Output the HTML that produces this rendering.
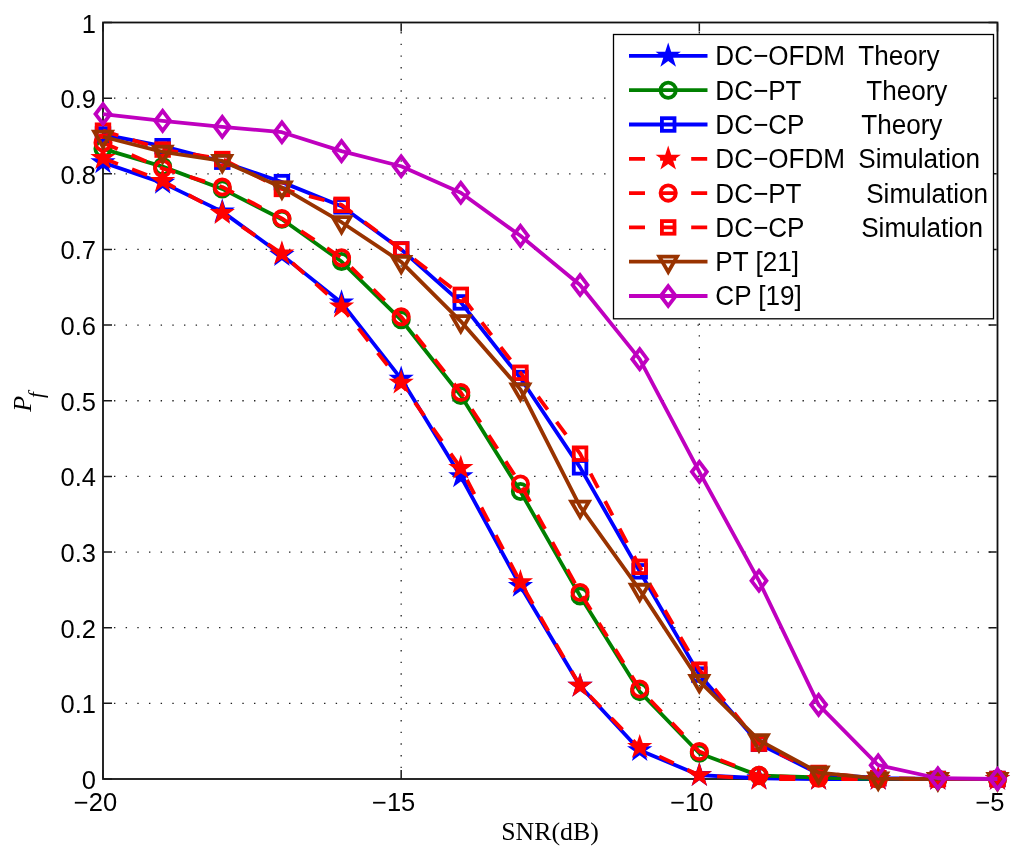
<!DOCTYPE html>
<html><head><meta charset="utf-8"><title>Pf vs SNR</title>
<style>html,body{margin:0;padding:0;background:#fff;overflow:hidden;}svg{display:block;}.s{font-family:"Liberation Sans",Arial,Helvetica,sans-serif;}.r{font-family:"Liberation Serif","Times New Roman",Times,serif;}</style>
</head><body>
<svg width="1024" height="858" viewBox="0 0 1024 858">
<rect width="1024" height="858" fill="#fff"/>
<path d="M103.00,703.35H997.50M103.00,627.70H997.50M103.00,552.05H997.50M103.00,476.40H997.50M103.00,400.75H997.50M103.00,325.10H997.50M103.00,249.45H997.50M103.00,173.80H997.50M103.00,98.15H997.50" stroke="#222" stroke-width="1.3" stroke-dasharray="1.4,10.27" stroke-dashoffset="0.7" fill="none"/>
<path d="M401.17,779.00V22.50M699.33,779.00V22.50" stroke="#222" stroke-width="1.3" stroke-dasharray="1.4,10.26" stroke-dashoffset="0.7" fill="none"/>
<rect x="103.0" y="22.5" width="894.5" height="756.5" fill="none" stroke="#111" stroke-width="1.8"/>
<path d="M103.8,779.00H112.0M996.7,779.00H988.5M103.8,703.35H112.0M996.7,703.35H988.5M103.8,627.70H112.0M996.7,627.70H988.5M103.8,552.05H112.0M996.7,552.05H988.5M103.8,476.40H112.0M996.7,476.40H988.5M103.8,400.75H112.0M996.7,400.75H988.5M103.8,325.10H112.0M996.7,325.10H988.5M103.8,249.45H112.0M996.7,249.45H988.5M103.8,173.80H112.0M996.7,173.80H988.5M103.8,98.15H112.0M996.7,98.15H988.5M103.8,22.50H112.0M996.7,22.50H988.5M103.00,778.2V770.0M103.00,23.3V31.5M401.17,778.2V770.0M401.17,23.3V31.5M699.33,778.2V770.0M699.33,23.3V31.5M997.50,778.2V770.0M997.50,23.3V31.5" stroke="#181818" stroke-width="1.5" fill="none"/>
<polyline points="103.00,162.45 162.63,182.88 222.27,211.62 281.90,255.12 341.53,302.63 401.17,378.81 460.80,476.40 520.43,586.09 580.07,685.95 639.70,750.25 699.33,775.22 758.97,778.24 818.60,779.00 878.23,779.00 937.87,779.00 997.50,779.00" fill="none" stroke="#0000ff" stroke-width="3.8" stroke-linejoin="round"/>
<polygon points="103.00,149.15 105.99,158.34 115.65,158.34 107.83,164.02 110.82,173.21 103.00,167.53 95.18,173.21 98.17,164.02 90.35,158.34 100.01,158.34" fill="#0000ff"/>
<polygon points="162.63,169.58 165.62,178.77 175.28,178.77 167.47,184.45 170.45,193.64 162.63,187.96 154.82,193.64 157.80,184.45 149.98,178.77 159.65,178.77" fill="#0000ff"/>
<polygon points="222.27,198.32 225.25,207.51 234.92,207.52 227.10,213.19 230.08,222.38 222.27,216.71 214.45,222.38 217.43,213.19 209.62,207.52 219.28,207.51" fill="#0000ff"/>
<polygon points="281.90,241.82 284.89,251.01 294.55,251.01 286.73,256.69 289.72,265.88 281.90,260.20 274.08,265.88 277.07,256.69 269.25,251.01 278.91,251.01" fill="#0000ff"/>
<polygon points="341.53,289.33 344.52,298.52 354.18,298.52 346.37,304.20 349.35,313.39 341.53,307.71 333.72,313.39 336.70,304.20 328.88,298.52 338.55,298.52" fill="#0000ff"/>
<polygon points="401.17,365.51 404.15,374.70 413.82,374.70 406.00,380.38 408.98,389.57 401.17,383.89 393.35,389.57 396.33,380.38 388.52,374.70 398.18,374.70" fill="#0000ff"/>
<polygon points="460.80,463.10 463.79,472.29 473.45,472.29 465.63,477.97 468.62,487.16 460.80,481.48 452.98,487.16 455.97,477.97 448.15,472.29 457.81,472.29" fill="#0000ff"/>
<polygon points="520.43,572.79 523.42,581.98 533.08,581.98 525.27,587.66 528.25,596.85 520.43,591.17 512.62,596.85 515.60,587.66 507.78,581.98 517.45,581.98" fill="#0000ff"/>
<polygon points="580.07,672.65 583.05,681.84 592.72,681.84 584.90,687.52 587.88,696.71 580.07,691.03 572.25,696.71 575.23,687.52 567.42,681.84 577.08,681.84" fill="#0000ff"/>
<polygon points="639.70,736.95 642.69,746.14 652.35,746.14 644.53,751.82 647.52,761.01 639.70,755.33 631.88,761.01 634.87,751.82 627.05,746.14 636.71,746.14" fill="#0000ff"/>
<polygon points="699.33,761.92 702.32,771.11 711.98,771.11 704.17,776.79 707.15,785.98 699.33,780.30 691.52,785.98 694.50,776.79 686.68,771.11 696.35,771.11" fill="#0000ff"/>
<polygon points="758.97,764.94 761.95,774.13 771.62,774.13 763.80,779.81 766.78,789.00 758.97,783.32 751.15,789.00 754.13,779.81 746.32,774.13 755.98,774.13" fill="#0000ff"/>
<polygon points="818.60,765.70 821.59,774.89 831.25,774.89 823.43,780.57 826.42,789.76 818.60,784.08 810.78,789.76 813.77,780.57 805.95,774.89 815.61,774.89" fill="#0000ff"/>
<polygon points="878.23,765.70 881.22,774.89 890.88,774.89 883.07,780.57 886.05,789.76 878.23,784.08 870.42,789.76 873.40,780.57 865.58,774.89 875.25,774.89" fill="#0000ff"/>
<polygon points="937.87,765.70 940.85,774.89 950.52,774.89 942.70,780.57 945.68,789.76 937.87,784.08 930.05,789.76 933.03,780.57 925.22,774.89 934.88,774.89" fill="#0000ff"/>
<polygon points="997.50,765.70 1000.49,774.89 1010.15,774.89 1002.33,780.57 1005.32,789.76 997.50,784.08 989.68,789.76 992.67,780.57 984.85,774.89 994.51,774.89" fill="#0000ff"/>
<polyline points="103.00,148.84 162.63,166.61 222.27,188.93 281.90,219.19 341.53,261.55 401.17,319.80 460.80,395.45 520.43,491.53 580.07,595.93 639.70,691.62 699.33,753.28 758.97,775.60 818.60,777.49 878.23,779.00 937.87,779.00 997.50,779.00" fill="none" stroke="#008000" stroke-width="3.8" stroke-linejoin="round"/>
<circle cx="103.00" cy="148.84" r="7.65" fill="none" stroke="#008000" stroke-width="3.8"/>
<circle cx="162.63" cy="166.61" r="7.65" fill="none" stroke="#008000" stroke-width="3.8"/>
<circle cx="222.27" cy="188.93" r="7.65" fill="none" stroke="#008000" stroke-width="3.8"/>
<circle cx="281.90" cy="219.19" r="7.65" fill="none" stroke="#008000" stroke-width="3.8"/>
<circle cx="341.53" cy="261.55" r="7.65" fill="none" stroke="#008000" stroke-width="3.8"/>
<circle cx="401.17" cy="319.80" r="7.65" fill="none" stroke="#008000" stroke-width="3.8"/>
<circle cx="460.80" cy="395.45" r="7.65" fill="none" stroke="#008000" stroke-width="3.8"/>
<circle cx="520.43" cy="491.53" r="7.65" fill="none" stroke="#008000" stroke-width="3.8"/>
<circle cx="580.07" cy="595.93" r="7.65" fill="none" stroke="#008000" stroke-width="3.8"/>
<circle cx="639.70" cy="691.62" r="7.65" fill="none" stroke="#008000" stroke-width="3.8"/>
<circle cx="699.33" cy="753.28" r="7.65" fill="none" stroke="#008000" stroke-width="3.8"/>
<circle cx="758.97" cy="775.60" r="7.65" fill="none" stroke="#008000" stroke-width="3.8"/>
<circle cx="818.60" cy="777.49" r="7.65" fill="none" stroke="#008000" stroke-width="3.8"/>
<circle cx="878.23" cy="779.00" r="7.65" fill="none" stroke="#008000" stroke-width="3.8"/>
<circle cx="937.87" cy="779.00" r="7.65" fill="none" stroke="#008000" stroke-width="3.8"/>
<circle cx="997.50" cy="779.00" r="7.65" fill="none" stroke="#008000" stroke-width="3.8"/>
<polyline points="103.00,134.46 162.63,146.19 222.27,161.70 281.90,182.12 341.53,206.33 401.17,249.45 460.80,302.40 520.43,378.06 580.07,467.32 639.70,571.34 699.33,674.60 758.97,743.82 818.60,773.70 878.23,778.24 937.87,779.00 997.50,779.00" fill="none" stroke="#0000ff" stroke-width="3.8" stroke-linejoin="round"/>
<rect x="96.70" y="128.16" width="12.6" height="12.6" fill="none" stroke="#0000ff" stroke-width="3.8"/>
<rect x="156.33" y="139.89" width="12.6" height="12.6" fill="none" stroke="#0000ff" stroke-width="3.8"/>
<rect x="215.97" y="155.40" width="12.6" height="12.6" fill="none" stroke="#0000ff" stroke-width="3.8"/>
<rect x="275.60" y="175.82" width="12.6" height="12.6" fill="none" stroke="#0000ff" stroke-width="3.8"/>
<rect x="335.23" y="200.03" width="12.6" height="12.6" fill="none" stroke="#0000ff" stroke-width="3.8"/>
<rect x="394.87" y="243.15" width="12.6" height="12.6" fill="none" stroke="#0000ff" stroke-width="3.8"/>
<rect x="454.50" y="296.10" width="12.6" height="12.6" fill="none" stroke="#0000ff" stroke-width="3.8"/>
<rect x="514.13" y="371.75" width="12.6" height="12.6" fill="none" stroke="#0000ff" stroke-width="3.8"/>
<rect x="573.77" y="461.02" width="12.6" height="12.6" fill="none" stroke="#0000ff" stroke-width="3.8"/>
<rect x="633.40" y="565.04" width="12.6" height="12.6" fill="none" stroke="#0000ff" stroke-width="3.8"/>
<rect x="693.03" y="668.30" width="12.6" height="12.6" fill="none" stroke="#0000ff" stroke-width="3.8"/>
<rect x="752.67" y="737.52" width="12.6" height="12.6" fill="none" stroke="#0000ff" stroke-width="3.8"/>
<rect x="812.30" y="767.40" width="12.6" height="12.6" fill="none" stroke="#0000ff" stroke-width="3.8"/>
<rect x="871.93" y="771.94" width="12.6" height="12.6" fill="none" stroke="#0000ff" stroke-width="3.8"/>
<rect x="931.57" y="772.70" width="12.6" height="12.6" fill="none" stroke="#0000ff" stroke-width="3.8"/>
<rect x="991.20" y="772.70" width="12.6" height="12.6" fill="none" stroke="#0000ff" stroke-width="3.8"/>
<polyline points="103.00,158.22 162.63,180.99 222.27,213.14 281.90,253.61 341.53,306.72 401.17,382.82 460.80,468.08 520.43,582.31 580.07,685.95 639.70,747.23 699.33,775.29 758.97,779.00 818.60,779.00 878.23,779.00 937.87,779.00 997.50,779.00" fill="none" stroke="#ff0000" stroke-width="3.8" stroke-linejoin="round" stroke-dasharray="16,15.1" stroke-dashoffset="0"/>
<polygon points="103.00,144.92 105.99,154.11 115.65,154.11 107.83,159.79 110.82,168.98 103.00,163.30 95.18,168.98 98.17,159.79 90.35,154.11 100.01,154.11" fill="#ff0000"/>
<polygon points="162.63,167.69 165.62,176.88 175.28,176.88 167.47,182.56 170.45,191.75 162.63,186.07 154.82,191.75 157.80,182.56 149.98,176.88 159.65,176.88" fill="#ff0000"/>
<polygon points="222.27,199.84 225.25,209.03 234.92,209.03 227.10,214.71 230.08,223.90 222.27,218.22 214.45,223.90 217.43,214.71 209.62,209.03 219.28,209.03" fill="#ff0000"/>
<polygon points="281.90,240.31 284.89,249.50 294.55,249.50 286.73,255.18 289.72,264.37 281.90,258.69 274.08,264.37 277.07,255.18 269.25,249.50 278.91,249.50" fill="#ff0000"/>
<polygon points="341.53,293.42 344.52,302.61 354.18,302.61 346.37,308.29 349.35,317.48 341.53,311.80 333.72,317.48 336.70,308.29 328.88,302.61 338.55,302.61" fill="#ff0000"/>
<polygon points="401.17,369.52 404.15,378.71 413.82,378.71 406.00,384.39 408.98,393.58 401.17,387.90 393.35,393.58 396.33,384.39 388.52,378.71 398.18,378.71" fill="#ff0000"/>
<polygon points="460.80,454.78 463.79,463.97 473.45,463.97 465.63,469.65 468.62,478.84 460.80,473.16 452.98,478.84 455.97,469.65 448.15,463.97 457.81,463.97" fill="#ff0000"/>
<polygon points="520.43,569.01 523.42,578.20 533.08,578.20 525.27,583.88 528.25,593.07 520.43,587.39 512.62,593.07 515.60,583.88 507.78,578.20 517.45,578.20" fill="#ff0000"/>
<polygon points="580.07,672.65 583.05,681.84 592.72,681.84 584.90,687.52 587.88,696.71 580.07,691.03 572.25,696.71 575.23,687.52 567.42,681.84 577.08,681.84" fill="#ff0000"/>
<polygon points="639.70,733.93 642.69,743.12 652.35,743.12 644.53,748.80 647.52,757.99 639.70,752.31 631.88,757.99 634.87,748.80 627.05,743.12 636.71,743.12" fill="#ff0000"/>
<polygon points="699.33,761.99 702.32,771.18 711.98,771.18 704.17,776.86 707.15,786.05 699.33,780.37 691.52,786.05 694.50,776.86 686.68,771.18 696.35,771.18" fill="#ff0000"/>
<polygon points="758.97,765.70 761.95,774.89 771.62,774.89 763.80,780.57 766.78,789.76 758.97,784.08 751.15,789.76 754.13,780.57 746.32,774.89 755.98,774.89" fill="#ff0000"/>
<polygon points="818.60,765.70 821.59,774.89 831.25,774.89 823.43,780.57 826.42,789.76 818.60,784.08 810.78,789.76 813.77,780.57 805.95,774.89 815.61,774.89" fill="#ff0000"/>
<polygon points="878.23,765.70 881.22,774.89 890.88,774.89 883.07,780.57 886.05,789.76 878.23,784.08 870.42,789.76 873.40,780.57 865.58,774.89 875.25,774.89" fill="#ff0000"/>
<polygon points="937.87,765.70 940.85,774.89 950.52,774.89 942.70,780.57 945.68,789.76 937.87,784.08 930.05,789.76 933.03,780.57 925.22,774.89 934.88,774.89" fill="#ff0000"/>
<polygon points="997.50,765.70 1000.49,774.89 1010.15,774.89 1002.33,780.57 1005.32,789.76 997.50,784.08 989.68,789.76 992.67,780.57 984.85,774.89 994.51,774.89" fill="#ff0000"/>
<polyline points="103.00,142.78 162.63,168.50 222.27,186.96 281.90,218.43 341.53,257.77 401.17,316.78 460.80,392.43 520.43,483.96 580.07,592.52 639.70,688.98 699.33,751.61 758.97,775.37 818.60,778.24 878.23,779.00 937.87,779.00 997.50,779.00" fill="none" stroke="#ff0000" stroke-width="3.8" stroke-linejoin="round" stroke-dasharray="16,15.1" stroke-dashoffset="0"/>
<circle cx="103.00" cy="142.78" r="7.65" fill="none" stroke="#ff0000" stroke-width="3.8"/>
<circle cx="162.63" cy="168.50" r="7.65" fill="none" stroke="#ff0000" stroke-width="3.8"/>
<circle cx="222.27" cy="186.96" r="7.65" fill="none" stroke="#ff0000" stroke-width="3.8"/>
<circle cx="281.90" cy="218.43" r="7.65" fill="none" stroke="#ff0000" stroke-width="3.8"/>
<circle cx="341.53" cy="257.77" r="7.65" fill="none" stroke="#ff0000" stroke-width="3.8"/>
<circle cx="401.17" cy="316.78" r="7.65" fill="none" stroke="#ff0000" stroke-width="3.8"/>
<circle cx="460.80" cy="392.43" r="7.65" fill="none" stroke="#ff0000" stroke-width="3.8"/>
<circle cx="520.43" cy="483.96" r="7.65" fill="none" stroke="#ff0000" stroke-width="3.8"/>
<circle cx="580.07" cy="592.52" r="7.65" fill="none" stroke="#ff0000" stroke-width="3.8"/>
<circle cx="639.70" cy="688.98" r="7.65" fill="none" stroke="#ff0000" stroke-width="3.8"/>
<circle cx="699.33" cy="751.61" r="7.65" fill="none" stroke="#ff0000" stroke-width="3.8"/>
<circle cx="758.97" cy="775.37" r="7.65" fill="none" stroke="#ff0000" stroke-width="3.8"/>
<circle cx="818.60" cy="778.24" r="7.65" fill="none" stroke="#ff0000" stroke-width="3.8"/>
<circle cx="878.23" cy="779.00" r="7.65" fill="none" stroke="#ff0000" stroke-width="3.8"/>
<circle cx="937.87" cy="779.00" r="7.65" fill="none" stroke="#ff0000" stroke-width="3.8"/>
<circle cx="997.50" cy="779.00" r="7.65" fill="none" stroke="#ff0000" stroke-width="3.8"/>
<polyline points="103.00,130.68 162.63,149.59 222.27,159.05 281.90,188.93 341.53,204.82 401.17,249.45 460.80,294.84 520.43,372.76 580.07,453.70 639.70,566.80 699.33,669.69 758.97,743.67 818.60,772.95 878.23,778.24 937.87,779.00 997.50,779.00" fill="none" stroke="#ff0000" stroke-width="3.8" stroke-linejoin="round" stroke-dasharray="16,15.1" stroke-dashoffset="0"/>
<rect x="96.70" y="124.38" width="12.6" height="12.6" fill="none" stroke="#ff0000" stroke-width="3.8"/>
<rect x="156.33" y="143.29" width="12.6" height="12.6" fill="none" stroke="#ff0000" stroke-width="3.8"/>
<rect x="215.97" y="152.75" width="12.6" height="12.6" fill="none" stroke="#ff0000" stroke-width="3.8"/>
<rect x="275.60" y="182.63" width="12.6" height="12.6" fill="none" stroke="#ff0000" stroke-width="3.8"/>
<rect x="335.23" y="198.52" width="12.6" height="12.6" fill="none" stroke="#ff0000" stroke-width="3.8"/>
<rect x="394.87" y="243.15" width="12.6" height="12.6" fill="none" stroke="#ff0000" stroke-width="3.8"/>
<rect x="454.50" y="288.54" width="12.6" height="12.6" fill="none" stroke="#ff0000" stroke-width="3.8"/>
<rect x="514.13" y="366.46" width="12.6" height="12.6" fill="none" stroke="#ff0000" stroke-width="3.8"/>
<rect x="573.77" y="447.40" width="12.6" height="12.6" fill="none" stroke="#ff0000" stroke-width="3.8"/>
<rect x="633.40" y="560.50" width="12.6" height="12.6" fill="none" stroke="#ff0000" stroke-width="3.8"/>
<rect x="693.03" y="663.39" width="12.6" height="12.6" fill="none" stroke="#ff0000" stroke-width="3.8"/>
<rect x="752.67" y="737.37" width="12.6" height="12.6" fill="none" stroke="#ff0000" stroke-width="3.8"/>
<rect x="812.30" y="766.65" width="12.6" height="12.6" fill="none" stroke="#ff0000" stroke-width="3.8"/>
<rect x="871.93" y="771.94" width="12.6" height="12.6" fill="none" stroke="#ff0000" stroke-width="3.8"/>
<rect x="931.57" y="772.70" width="12.6" height="12.6" fill="none" stroke="#ff0000" stroke-width="3.8"/>
<rect x="991.20" y="772.70" width="12.6" height="12.6" fill="none" stroke="#ff0000" stroke-width="3.8"/>
<polyline points="103.00,136.73 162.63,151.86 222.27,160.94 281.90,187.42 341.53,222.22 401.17,261.93 460.80,321.32 520.43,389.40 580.07,506.66 639.70,589.88 699.33,681.03 758.97,740.19 818.60,772.57 878.23,778.62 937.87,779.00 997.50,779.00" fill="none" stroke="#993300" stroke-width="3.8" stroke-linejoin="round"/>
<polygon points="103.00,146.93 94.17,131.63 111.83,131.63" fill="none" stroke="#993300" stroke-width="3.8" stroke-linejoin="miter"/>
<polygon points="162.63,162.06 153.80,146.76 171.47,146.76" fill="none" stroke="#993300" stroke-width="3.8" stroke-linejoin="miter"/>
<polygon points="222.27,171.14 213.43,155.84 231.10,155.84" fill="none" stroke="#993300" stroke-width="3.8" stroke-linejoin="miter"/>
<polygon points="281.90,197.62 273.07,182.32 290.73,182.32" fill="none" stroke="#993300" stroke-width="3.8" stroke-linejoin="miter"/>
<polygon points="341.53,232.42 332.70,217.12 350.37,217.12" fill="none" stroke="#993300" stroke-width="3.8" stroke-linejoin="miter"/>
<polygon points="401.17,272.13 392.33,256.83 410.00,256.83" fill="none" stroke="#993300" stroke-width="3.8" stroke-linejoin="miter"/>
<polygon points="460.80,331.52 451.97,316.22 469.63,316.22" fill="none" stroke="#993300" stroke-width="3.8" stroke-linejoin="miter"/>
<polygon points="520.43,399.60 511.60,384.30 529.27,384.30" fill="none" stroke="#993300" stroke-width="3.8" stroke-linejoin="miter"/>
<polygon points="580.07,516.86 571.23,501.56 588.90,501.56" fill="none" stroke="#993300" stroke-width="3.8" stroke-linejoin="miter"/>
<polygon points="639.70,600.08 630.87,584.77 648.53,584.77" fill="none" stroke="#993300" stroke-width="3.8" stroke-linejoin="miter"/>
<polygon points="699.33,691.23 690.50,675.93 708.17,675.93" fill="none" stroke="#993300" stroke-width="3.8" stroke-linejoin="miter"/>
<polygon points="758.97,750.39 750.13,735.09 767.80,735.09" fill="none" stroke="#993300" stroke-width="3.8" stroke-linejoin="miter"/>
<polygon points="818.60,782.77 809.77,767.47 827.43,767.47" fill="none" stroke="#993300" stroke-width="3.8" stroke-linejoin="miter"/>
<polygon points="878.23,788.82 869.40,773.52 887.07,773.52" fill="none" stroke="#993300" stroke-width="3.8" stroke-linejoin="miter"/>
<polygon points="937.87,789.20 929.03,773.90 946.70,773.90" fill="none" stroke="#993300" stroke-width="3.8" stroke-linejoin="miter"/>
<polygon points="997.50,789.20 988.67,773.90 1006.33,773.90" fill="none" stroke="#993300" stroke-width="3.8" stroke-linejoin="miter"/>
<polyline points="103.00,114.04 162.63,120.85 222.27,126.90 281.90,132.19 341.53,151.11 401.17,166.24 460.80,192.71 520.43,235.83 580.07,285.01 639.70,359.14 699.33,471.86 758.97,580.80 818.60,704.86 878.23,765.23 937.87,778.24 997.50,779.00" fill="none" stroke="#bf00bf" stroke-width="3.8" stroke-linejoin="round"/>
<polygon points="103.00,104.14 110.50,114.04 103.00,123.94 95.50,114.04" fill="none" stroke="#bf00bf" stroke-width="3.8" stroke-linejoin="miter"/>
<polygon points="162.63,110.95 170.13,120.85 162.63,130.75 155.13,120.85" fill="none" stroke="#bf00bf" stroke-width="3.8" stroke-linejoin="miter"/>
<polygon points="222.27,117.00 229.77,126.90 222.27,136.80 214.77,126.90" fill="none" stroke="#bf00bf" stroke-width="3.8" stroke-linejoin="miter"/>
<polygon points="281.90,122.29 289.40,132.19 281.90,142.09 274.40,132.19" fill="none" stroke="#bf00bf" stroke-width="3.8" stroke-linejoin="miter"/>
<polygon points="341.53,141.21 349.03,151.11 341.53,161.01 334.03,151.11" fill="none" stroke="#bf00bf" stroke-width="3.8" stroke-linejoin="miter"/>
<polygon points="401.17,156.34 408.67,166.24 401.17,176.14 393.67,166.24" fill="none" stroke="#bf00bf" stroke-width="3.8" stroke-linejoin="miter"/>
<polygon points="460.80,182.81 468.30,192.71 460.80,202.61 453.30,192.71" fill="none" stroke="#bf00bf" stroke-width="3.8" stroke-linejoin="miter"/>
<polygon points="520.43,225.93 527.93,235.83 520.43,245.73 512.93,235.83" fill="none" stroke="#bf00bf" stroke-width="3.8" stroke-linejoin="miter"/>
<polygon points="580.07,275.11 587.57,285.01 580.07,294.91 572.57,285.01" fill="none" stroke="#bf00bf" stroke-width="3.8" stroke-linejoin="miter"/>
<polygon points="639.70,349.24 647.20,359.14 639.70,369.04 632.20,359.14" fill="none" stroke="#bf00bf" stroke-width="3.8" stroke-linejoin="miter"/>
<polygon points="699.33,461.96 706.83,471.86 699.33,481.76 691.83,471.86" fill="none" stroke="#bf00bf" stroke-width="3.8" stroke-linejoin="miter"/>
<polygon points="758.97,570.90 766.47,580.80 758.97,590.70 751.47,580.80" fill="none" stroke="#bf00bf" stroke-width="3.8" stroke-linejoin="miter"/>
<polygon points="818.60,694.96 826.10,704.86 818.60,714.76 811.10,704.86" fill="none" stroke="#bf00bf" stroke-width="3.8" stroke-linejoin="miter"/>
<polygon points="878.23,755.33 885.73,765.23 878.23,775.13 870.73,765.23" fill="none" stroke="#bf00bf" stroke-width="3.8" stroke-linejoin="miter"/>
<polygon points="937.87,768.34 945.37,778.24 937.87,788.14 930.37,778.24" fill="none" stroke="#bf00bf" stroke-width="3.8" stroke-linejoin="miter"/>
<polygon points="997.50,769.10 1005.00,779.00 997.50,788.90 990.00,779.00" fill="none" stroke="#bf00bf" stroke-width="3.8" stroke-linejoin="miter"/>
<g class="s" font-size="25.5" fill="#000">
<text x="96" y="789.00" text-anchor="end">0</text>
<text x="96" y="713.35" text-anchor="end">0.1</text>
<text x="96" y="637.70" text-anchor="end">0.2</text>
<text x="96" y="562.05" text-anchor="end">0.3</text>
<text x="96" y="486.40" text-anchor="end">0.4</text>
<text x="96" y="410.75" text-anchor="end">0.5</text>
<text x="96" y="335.10" text-anchor="end">0.6</text>
<text x="96" y="259.45" text-anchor="end">0.7</text>
<text x="96" y="183.80" text-anchor="end">0.8</text>
<text x="96" y="108.15" text-anchor="end">0.9</text>
<text x="96" y="32.50" text-anchor="end">1</text>
<text x="95.50" y="810.5" text-anchor="middle">−20</text>
<text x="393.67" y="810.5" text-anchor="middle">−15</text>
<text x="691.83" y="810.5" text-anchor="middle">−10</text>
<text x="990.00" y="810.5" text-anchor="middle">−5</text>
</g>
<text x="550" y="840.3" text-anchor="middle" class="r" font-size="25.8">SNR(dB)</text>
<g transform="translate(30.6,411.8) rotate(-90)"><text x="0" y="0" class="r" font-size="26" font-style="italic">P<tspan font-size="21" dy="12.5" dx="-2">f</tspan></text></g>
<rect x="613.5" y="34.5" width="380.0" height="284.3" fill="#fff" stroke="#000" stroke-width="1.3"/>
<line x1="629" y1="55.90" x2="707.5" y2="55.90" stroke="#0000ff" stroke-width="3.8"/>
<polygon points="668.20,42.60 671.19,51.79 680.85,51.79 673.03,57.47 676.02,66.66 668.20,60.98 660.38,66.66 663.37,57.47 655.55,51.79 665.21,51.79" fill="#0000ff"/>
<text x="715.3" y="62.29" class="s" font-size="26.1" transform="scale(1,1.05)">DC−OFDM</text>
<text x="858.30" y="62.29" class="s" font-size="26.1" transform="scale(1,1.05)">Theory</text>
<line x1="629" y1="90.20" x2="707.5" y2="90.20" stroke="#008000" stroke-width="3.8"/>
<circle cx="668.20" cy="90.20" r="7.65" fill="none" stroke="#008000" stroke-width="3.8"/>
<text x="715.3" y="94.95" class="s" font-size="26.1" transform="scale(1,1.05)">DC−PT</text>
<text x="866.20" y="94.95" class="s" font-size="26.1" transform="scale(1,1.05)">Theory</text>
<line x1="629" y1="124.50" x2="707.5" y2="124.50" stroke="#0000ff" stroke-width="3.8"/>
<rect x="661.90" y="118.20" width="12.6" height="12.6" fill="none" stroke="#0000ff" stroke-width="3.8"/>
<text x="715.3" y="127.62" class="s" font-size="26.1" transform="scale(1,1.05)">DC−CP</text>
<text x="861.20" y="127.62" class="s" font-size="26.1" transform="scale(1,1.05)">Theory</text>
<line x1="629" y1="158.80" x2="707.5" y2="158.80" stroke="#ff0000" stroke-width="3.8" stroke-dasharray="16,15.1"/>
<polygon points="668.20,145.50 671.19,154.69 680.85,154.69 673.03,160.37 676.02,169.56 668.20,163.88 660.38,169.56 663.37,160.37 655.55,154.69 665.21,154.69" fill="#ff0000"/>
<text x="715.3" y="160.29" class="s" font-size="26.1" transform="scale(1,1.05)">DC−OFDM</text>
<text x="858.30" y="160.29" class="s" font-size="26.1" transform="scale(1,1.05)">Simulation</text>
<line x1="629" y1="193.10" x2="707.5" y2="193.10" stroke="#ff0000" stroke-width="3.8" stroke-dasharray="16,15.1"/>
<circle cx="668.20" cy="193.10" r="7.65" fill="none" stroke="#ff0000" stroke-width="3.8"/>
<text x="715.3" y="192.95" class="s" font-size="26.1" transform="scale(1,1.05)">DC−PT</text>
<text x="866.20" y="192.95" class="s" font-size="26.1" transform="scale(1,1.05)">Simulation</text>
<line x1="629" y1="227.40" x2="707.5" y2="227.40" stroke="#ff0000" stroke-width="3.8" stroke-dasharray="16,15.1"/>
<rect x="661.90" y="221.10" width="12.6" height="12.6" fill="none" stroke="#ff0000" stroke-width="3.8"/>
<text x="715.3" y="225.62" class="s" font-size="26.1" transform="scale(1,1.05)">DC−CP</text>
<text x="861.20" y="225.62" class="s" font-size="26.1" transform="scale(1,1.05)">Simulation</text>
<line x1="629" y1="261.70" x2="707.5" y2="261.70" stroke="#993300" stroke-width="3.8"/>
<polygon points="668.20,271.90 659.37,256.60 677.03,256.60" fill="none" stroke="#993300" stroke-width="3.8" stroke-linejoin="miter"/>
<text x="715.3" y="258.29" class="s" font-size="26.1" transform="scale(1,1.05)">PT [21]</text>
<line x1="629" y1="296.00" x2="707.5" y2="296.00" stroke="#bf00bf" stroke-width="3.8"/>
<polygon points="668.20,286.10 675.70,296.00 668.20,305.90 660.70,296.00" fill="none" stroke="#bf00bf" stroke-width="3.8" stroke-linejoin="miter"/>
<text x="715.3" y="290.95" class="s" font-size="26.1" transform="scale(1,1.05)">CP [19]</text>
</svg>
</body></html>
